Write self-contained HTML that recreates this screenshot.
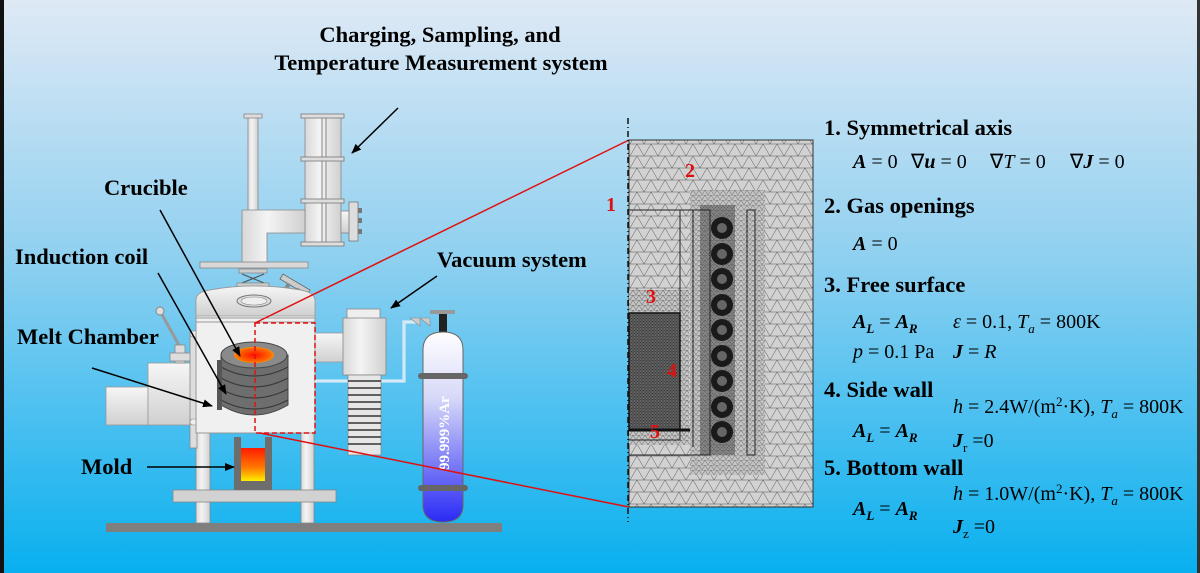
<!DOCTYPE html>
<html><head><meta charset="utf-8"><style>
html,body{margin:0;padding:0;}
body{width:1200px;height:573px;overflow:hidden;}
svg{display:block;}
.t{font-family:"Liberation Serif",serif;font-weight:bold;fill:#000;}
.m{font-family:"Liberation Serif",serif;font-size:20px;fill:#000;}
</style></head><body>
<svg width="1200" height="573" viewBox="0 0 1200 573" xmlns="http://www.w3.org/2000/svg">
<defs>
<linearGradient id="bg" x1="0" y1="0" x2="0" y2="1">
<stop offset="0" stop-color="#dfe9f5"/><stop offset="0.45" stop-color="#8fd0f0"/><stop offset="1" stop-color="#08b0ef"/></linearGradient>
<linearGradient id="metal" x1="0" y1="0" x2="1" y2="0">
<stop offset="0" stop-color="#d8d8d8"/><stop offset="0.4" stop-color="#f4f4f4"/><stop offset="1" stop-color="#d0d0d0"/></linearGradient>
<linearGradient id="metalv" x1="0" y1="0" x2="0" y2="1">
<stop offset="0" stop-color="#f6f6f6"/><stop offset="1" stop-color="#d0d0d0"/></linearGradient>
<linearGradient id="bottle" x1="0" y1="0" x2="0" y2="1">
<stop offset="0" stop-color="#ffffff"/><stop offset="0.35" stop-color="#d6d8f8"/><stop offset="1" stop-color="#2a2af5"/></linearGradient>
<linearGradient id="hot" x1="0" y1="0" x2="0" y2="1">
<stop offset="0" stop-color="#ff1a00"/><stop offset="0.6" stop-color="#ff7a00"/><stop offset="1" stop-color="#ffee00"/></linearGradient>
<radialGradient id="melt" cx="0.5" cy="0.5" r="0.6">
<stop offset="0" stop-color="#ff1000"/><stop offset="0.7" stop-color="#ff6a00"/><stop offset="1" stop-color="#ffc000"/></radialGradient>
<pattern id="mesh" width="14" height="12" patternUnits="userSpaceOnUse">
<rect width="14" height="12" fill="#d2d2d2"/>
<path d="M0 0H14M0 12H14M0 12L7 0L14 12M0 0L-7 12M14 0L21 12" stroke="#555" stroke-width="0.5" fill="none"/></pattern>
<pattern id="mesh2" width="6" height="5" patternUnits="userSpaceOnUse">
<rect width="6" height="5" fill="#c4c4c4"/>
<path d="M0 0H6M0 5L3 0L6 5" stroke="#444" stroke-width="0.4" fill="none"/></pattern>
<pattern id="mesh3" width="3" height="3" patternUnits="userSpaceOnUse">
<rect width="3" height="3" fill="#6a6a6a"/>
<path d="M0 0H3M0 3L1.5 0L3 3" stroke="#222" stroke-width="0.4" fill="none"/></pattern>
<marker id="ar" markerWidth="10" markerHeight="8" refX="9" refY="4" orient="auto" markerUnits="userSpaceOnUse">
<path d="M0 0L10 4L0 8Z" fill="#000"/></marker>
</defs>
<rect width="1200" height="573" fill="url(#bg)"/>
<rect x="0" y="0" width="4" height="573" fill="#111"/>
<rect x="1197" y="0" width="3" height="573" fill="#333"/>

<rect x="106" y="523" width="396" height="9" fill="#7f7f7f"/>
<rect x="196" y="430" width="14" height="93" fill="url(#metal)" stroke="#888" stroke-width="0.8"/>
<rect x="301" y="430" width="13" height="93" fill="url(#metal)" stroke="#888" stroke-width="0.8"/>
<rect x="173" y="490" width="163" height="12" fill="#d2d2d2" stroke="#888" stroke-width="0.8"/>
<rect x="234" y="437" width="7" height="48" fill="#6d6d6d"/>
<rect x="265" y="437" width="7" height="48" fill="#6d6d6d"/>
<rect x="234" y="481" width="38" height="9" fill="#6d6d6d"/>
<rect x="241" y="448" width="24" height="33" fill="url(#hot)"/>

<rect x="248" y="117" width="10" height="95" fill="url(#metal)" stroke="#888" stroke-width="0.8"/>
<rect x="244" y="114" width="18" height="4" fill="#ddd" stroke="#888" stroke-width="0.8"/>
<rect x="305" y="117" width="36" height="128" fill="url(#metal)" stroke="#888" stroke-width="0.8"/>
<line x1="322" y1="117" x2="322" y2="245" stroke="#888"/><line x1="326" y1="117" x2="326" y2="245" stroke="#888"/>
<rect x="301" y="114" width="43" height="4" fill="#ddd" stroke="#777" stroke-width="0.8"/>
<rect x="301" y="157" width="43" height="4" fill="#ddd" stroke="#777" stroke-width="0.8"/>
<rect x="301" y="199" width="43" height="4" fill="#ddd" stroke="#777" stroke-width="0.8"/>
<rect x="301" y="242" width="43" height="4" fill="#ddd" stroke="#777" stroke-width="0.8"/>
<rect x="341" y="211" width="9" height="22" fill="url(#metalv)" stroke="#888" stroke-width="0.8"/>
<rect x="349" y="202" width="9" height="39" fill="#ddd" stroke="#777" stroke-width="0.8"/>
<rect x="358" y="208" width="4" height="5" fill="#777"/><rect x="358" y="218" width="4" height="5" fill="#777"/><rect x="358" y="229" width="4" height="5" fill="#777"/>
<path d="M242 210H305V233H267V263H242Z" fill="url(#metal)" stroke="#888" stroke-width="0.8"/>
<rect x="200" y="262" width="108" height="6" fill="#d8d8d8" stroke="#888" stroke-width="0.8"/>
<rect x="239" y="269" width="28" height="4" fill="#ccc" stroke="#777" stroke-width="0.6"/>
<path d="M242 274L264 283M264 274L242 283" stroke="#555" stroke-width="1.2"/>
<rect x="237" y="283" width="32" height="5" fill="#ccc" stroke="#777" stroke-width="0.6"/>
<path d="M280 279L283 274L310 290L307 295Z" fill="#ccc" stroke="#666" stroke-width="0.8"/>
<rect x="285" y="283" width="4" height="9" fill="#888" transform="rotate(30 287 287)"/>
<rect x="295" y="288" width="4" height="9" fill="#888" transform="rotate(30 297 292)"/>

<rect x="106" y="387" width="42" height="38" fill="url(#metalv)" stroke="#999" stroke-width="0.8"/>
<rect x="148" y="363" width="45" height="62" fill="url(#metalv)" stroke="#999" stroke-width="0.8"/>
<line x1="160" y1="311" x2="180" y2="347" stroke="#999" stroke-width="3"/>
<circle cx="160" cy="311" r="4" fill="#ddd" stroke="#888"/>
<rect x="175" y="345" width="10" height="18" fill="#ddd" stroke="#888" stroke-width="0.8"/>
<rect x="170" y="353" width="26" height="8" fill="#ddd" stroke="#888" stroke-width="0.8"/>
<rect x="190" y="333" width="7" height="115" fill="#ddd" stroke="#888" stroke-width="0.8"/>
<rect x="190" y="331" width="20" height="6" rx="3" fill="#eee" stroke="#888" stroke-width="0.6"/>
<rect x="190" y="419" width="20" height="6" rx="3" fill="#eee" stroke="#888" stroke-width="0.6"/>

<path d="M196 433V300Q196 292 210 290Q254 282 300 290Q314 292 315 300V433Z" fill="#f0f0f0" stroke="#999" stroke-width="1"/>
<path d="M196 300Q196 292 210 290Q254 282 300 290Q314 292 315 300V316H196Z" fill="url(#metalv)" stroke="#999" stroke-width="0.8"/>
<line x1="196" y1="318" x2="315" y2="318" stroke="#999"/><line x1="196" y1="322" x2="315" y2="322" stroke="#999"/>
<ellipse cx="254" cy="301" rx="17" ry="6" fill="#ddd" stroke="#777"/>
<ellipse cx="254" cy="301" rx="13" ry="4" fill="#eee" stroke="#888" stroke-width="0.6"/>
<path d="M221 355V405Q254 425 288 405V355Z" fill="#6e6e6e" stroke="#444"/>
<path d="M221 367Q254 385 288 367M221 378Q254 396 288 378M221 389Q254 407 288 389M221 400Q254 418 288 400" stroke="#3a3a3a" fill="none" stroke-width="1.2"/>
<rect x="217" y="360" width="5" height="50" fill="#555"/>
<ellipse cx="254" cy="355" rx="33" ry="13" fill="#8a8a8a" stroke="#444"/>
<ellipse cx="254" cy="355" rx="20" ry="8" fill="url(#melt)"/>

<rect x="315" y="333" width="30" height="29" fill="url(#metalv)" stroke="#999" stroke-width="0.8"/>
<path d="M315 381H404V322H417" stroke="#e6f2fa" stroke-width="3" fill="none"/>
<path d="M315 381H404V322H417" stroke="#a9cfe6" stroke-width="0.6" fill="none"/>
<rect x="347" y="309" width="33" height="10" fill="#eee" stroke="#888" stroke-width="0.8"/>
<rect x="343" y="318" width="43" height="57" fill="url(#metal)" stroke="#888" stroke-width="0.8"/>
<rect x="348" y="375" width="33" height="80" fill="#e6e6e6" stroke="#888" stroke-width="0.8"/>
<g stroke="#333" stroke-width="1.6">
<line x1="348" y1="381" x2="381" y2="381"/><line x1="348" y1="388" x2="381" y2="388"/><line x1="348" y1="395" x2="381" y2="395"/><line x1="348" y1="402" x2="381" y2="402"/><line x1="348" y1="409" x2="381" y2="409"/><line x1="348" y1="416" x2="381" y2="416"/><line x1="348" y1="423" x2="381" y2="423"/><line x1="348" y1="430" x2="381" y2="430"/><line x1="348" y1="437" x2="381" y2="437"/><line x1="348" y1="444" x2="381" y2="444"/></g>
<path d="M410 318L420 326V318L430 326V318Z" fill="#ccc" stroke="#888" stroke-width="0.6"/>
<rect x="430" y="310" width="25" height="4" fill="#999"/>
<rect x="439" y="314" width="8" height="20" fill="#222"/>
<path d="M423 350Q423 332 443 332Q463 332 463 350V505Q463 522 443 522Q423 522 423 505Z" fill="url(#bottle)" stroke="#666"/>
<rect x="418" y="373" width="50" height="6" rx="3" fill="#666"/>
<rect x="418" y="485" width="50" height="6" rx="3" fill="#666"/>
<text class="t" x="0" y="0" font-size="15" style="fill:#fff" transform="translate(449,470) rotate(-90)">99.999%Ar</text>

<line x1="255" y1="323" x2="629" y2="140" stroke="#e01010" stroke-width="1.5"/>
<line x1="260" y1="433" x2="629" y2="507" stroke="#e01010" stroke-width="1.5"/>
<rect x="255" y="323" width="60" height="110" fill="none" stroke="#e01010" stroke-width="1.5" stroke-dasharray="5,3"/>

<g stroke="#000" stroke-width="1.5" marker-end="url(#ar)">
<line x1="398" y1="108" x2="352" y2="153"/>
<line x1="160" y1="210" x2="240" y2="356"/>
<line x1="158" y1="273" x2="226" y2="394"/>
<line x1="92" y1="368" x2="212" y2="406"/>
<line x1="147" y1="467" x2="234" y2="467"/>
<line x1="437" y1="276" x2="391" y2="308"/>
</g>

<text class="t" x="440" y="42" font-size="22.5" text-anchor="middle">Charging, Sampling, and</text>
<text class="t" x="441" y="70" font-size="22.5" text-anchor="middle">Temperature Measurement system</text>
<text class="t" x="104" y="195" font-size="22.5">Crucible</text>
<text class="t" x="15" y="264" font-size="22.5">Induction coil</text>
<text class="t" x="17" y="344" font-size="22.5">Melt Chamber</text>
<text class="t" x="81" y="474" font-size="22.5">Mold</text>
<text class="t" x="437" y="267" font-size="22.5">Vacuum system</text>

<rect x="629" y="140" width="184" height="367" fill="url(#mesh)" stroke="#333"/>
<rect x="690" y="190" width="75" height="285" fill="url(#mesh2)" opacity="0.9"/>
<rect x="700" y="205" width="35" height="250" fill="url(#mesh3)" opacity="0.6"/>
<rect x="629" y="290" width="60" height="155" fill="url(#mesh2)"/>
<g fill="none" stroke="#222" stroke-width="1">
<path d="M629 210H710V455H629"/>
<path d="M680 210V440H629"/>
<path d="M693 210V447"/>
<rect x="747" y="210" width="8" height="245"/>
</g>
<rect x="629" y="313" width="51" height="117" fill="url(#mesh3)" stroke="#111" stroke-width="1.5"/>
<line x1="629" y1="430" x2="690" y2="430" stroke="#111" stroke-width="3"/>
<g fill="#1a1a1a">
<circle cx="722" cy="228" r="11"/><circle cx="722" cy="254" r="11"/><circle cx="722" cy="279" r="11"/><circle cx="722" cy="305" r="11"/><circle cx="722" cy="330" r="11"/><circle cx="722" cy="356" r="11"/><circle cx="722" cy="381" r="11"/><circle cx="722" cy="407" r="11"/><circle cx="722" cy="432" r="11"/></g>
<g fill="#666">
<circle cx="722" cy="228" r="5"/><circle cx="722" cy="254" r="5"/><circle cx="722" cy="279" r="5"/><circle cx="722" cy="305" r="5"/><circle cx="722" cy="330" r="5"/><circle cx="722" cy="356" r="5"/><circle cx="722" cy="381" r="5"/><circle cx="722" cy="407" r="5"/><circle cx="722" cy="432" r="5"/></g>
<line x1="628" y1="118" x2="628" y2="522" stroke="#111" stroke-width="1.5" stroke-dasharray="6,3,1,3"/>
<g class="t" font-size="20">
<text x="606" y="211" style="fill:#e01010">1</text>
<text x="685" y="177" style="fill:#e01010">2</text>
<text x="646" y="303" style="fill:#e01010">3</text>
<text x="667" y="377" style="fill:#e01010">4</text>
<text x="650" y="438" style="fill:#e01010">5</text>
</g>

<g class="t" font-size="22.5">
<text x="824" y="135">1. Symmetrical axis</text>
<text x="824" y="213">2. Gas openings</text>
<text x="824" y="292">3. Free surface</text>
<text x="824" y="397">4. Side wall</text>
<text x="824" y="475">5. Bottom wall</text>
</g>
<text class="m" x="853" y="168"><tspan font-style="italic" font-weight="bold">A</tspan> = 0</text>
<text class="m" x="911" y="168">∇<tspan font-style="italic" font-weight="bold">u</tspan> = 0</text>
<text class="m" x="990" y="168">∇<tspan font-style="italic">T</tspan> = 0</text>
<text class="m" x="1070" y="168">∇<tspan font-style="italic" font-weight="bold">J</tspan> = 0</text>
<text class="m" x="853" y="250"><tspan font-style="italic" font-weight="bold">A</tspan> = 0</text>
<text class="m" x="853" y="328" font-style="italic" font-weight="bold">A<tspan font-size="13" dy="5">L</tspan><tspan dy="-5" font-style="normal" font-weight="normal"> = </tspan>A<tspan font-size="13" dy="5">R</tspan></text>
<text class="m" x="953" y="328"><tspan font-style="italic">ε</tspan> = 0.1, <tspan font-style="italic">T</tspan><tspan font-size="13" dy="5" font-style="italic">a</tspan><tspan dy="-5"> = 800K</tspan></text>
<text class="m" x="853" y="358"><tspan font-style="italic">p</tspan> = 0.1 Pa</text>
<text class="m" x="953" y="358"><tspan font-style="italic" font-weight="bold">J</tspan> = <tspan font-style="italic">R</tspan></text>
<text class="m" x="953" y="413"><tspan font-style="italic">h</tspan> = 2.4W/(m<tspan font-size="13" dy="-7">2</tspan><tspan dy="7">·K), </tspan><tspan font-style="italic">T</tspan><tspan font-size="13" dy="5" font-style="italic">a</tspan><tspan dy="-5"> = 800K</tspan></text>
<text class="m" x="853" y="437" font-style="italic" font-weight="bold">A<tspan font-size="13" dy="5">L</tspan><tspan dy="-5" font-style="normal" font-weight="normal"> = </tspan>A<tspan font-size="13" dy="5">R</tspan></text>
<text class="m" x="953" y="447"><tspan font-style="italic" font-weight="bold">J</tspan><tspan font-size="13" dy="5">r</tspan><tspan dy="-5"> =0</tspan></text>
<text class="m" x="953" y="500"><tspan font-style="italic">h</tspan> = 1.0W/(m<tspan font-size="13" dy="-7">2</tspan><tspan dy="7">·K), </tspan><tspan font-style="italic">T</tspan><tspan font-size="13" dy="5" font-style="italic">a</tspan><tspan dy="-5"> = 800K</tspan></text>
<text class="m" x="853" y="515" font-style="italic" font-weight="bold">A<tspan font-size="13" dy="5">L</tspan><tspan dy="-5" font-style="normal" font-weight="normal"> = </tspan>A<tspan font-size="13" dy="5">R</tspan></text>
<text class="m" x="953" y="533"><tspan font-style="italic" font-weight="bold">J</tspan><tspan font-size="13" dy="5">z</tspan><tspan dy="-5"> =0</tspan></text>
</svg>
</body></html>
